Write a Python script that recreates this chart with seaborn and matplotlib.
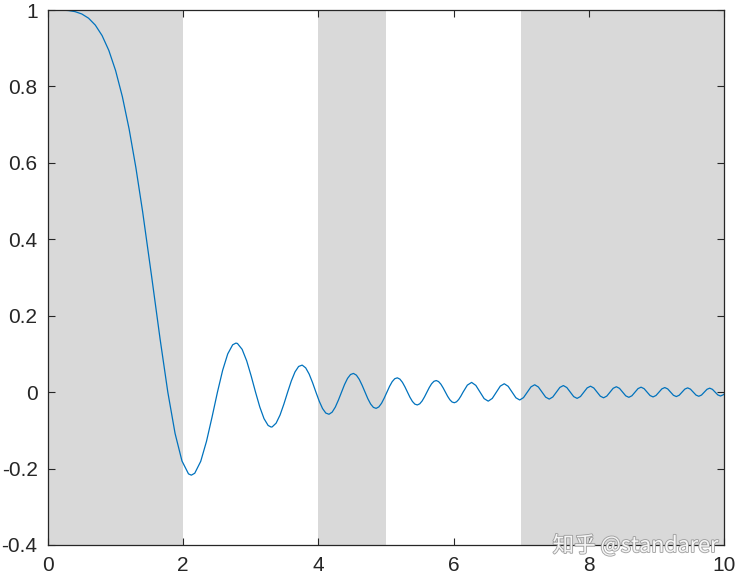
import matplotlib
matplotlib.use("Agg")
import matplotlib.pyplot as plt
import matplotlib.patheffects as pe
import seaborn as sns
import pandas as pd

# ---- data ----
x_vals = [0.0, 0.1, 0.2, 0.3, 0.4, 0.5, 0.6, 0.7, 0.8, 0.9, 1.0, 1.1, 1.2, 1.3, 1.4,
          1.53499, 1.65798, 1.77245, 1.87997, 1.98166, 2.07839, 2.12, 2.17081, 2.25945, 2.34474, 2.42704,
          2.50663, 2.58377, 2.65868, 2.73153, 2.78, 2.80249, 2.87170, 2.93928, 3.00534, 3.06998, 3.13329,
          3.19534, 3.25620, 3.30, 3.31596, 3.37465, 3.43234, 3.48908, 3.54491, 3.59987, 3.65401, 3.70736,
          3.75994, 3.81181, 3.86297, 3.91347, 3.96333, 4.01256, 4.06120, 4.10926, 4.15677, 4.20374,
          4.25019, 4.29614, 4.34160, 4.38660, 4.43114, 4.47523, 4.51889, 4.56214, 4.60498, 4.64742,
          4.68948, 4.73116, 4.77248, 4.81345, 4.85407, 4.89435, 4.93431, 4.97394, 5.01326, 5.05227,
          5.09099, 5.12941, 5.16755, 5.20541, 5.24299, 5.28031, 5.31736, 5.35416, 5.39071, 5.42701,
          5.46307, 5.49890, 5.53449, 5.56985, 5.60499, 5.63991, 5.67462, 5.70912, 5.74341, 5.77749,
          5.81138, 5.84507, 5.87857, 5.91187, 5.94499, 5.97793, 6.01068, 6.04326, 6.07566, 6.10789,
          6.13996, 6.20358, 6.26657, 6.32893, 6.39068, 6.45184, 6.51242, 6.57244, 6.63193, 6.69088,
          6.74932, 6.80725, 6.86470, 6.92167, 6.97817, 7.03421, 7.08982, 7.14499, 7.19975, 7.25409,
          7.30802, 7.36156, 7.41471, 7.46748, 7.51988, 7.57193, 7.62361, 7.67495, 7.72595, 7.77661,
          7.82694, 7.87695, 7.92665, 7.97604, 8.02512, 8.07391, 8.12240, 8.17061, 8.21853, 8.26617,
          8.31354, 8.36064, 8.40748, 8.45406, 8.50038, 8.54646, 8.59228, 8.63787, 8.68321, 8.72832,
          8.77320, 8.81785, 8.86227, 8.90647, 8.95045, 8.99422, 9.03778, 9.08112, 9.12426, 9.16720,
          9.20994, 9.25248, 9.29483, 9.33698, 9.37895, 9.42072, 9.46232, 9.50373, 9.54496, 9.58601,
          9.62689, 9.66760, 9.70813, 9.74850, 9.78870, 9.82873, 9.86860, 9.90832, 9.94787, 9.98727,
          10.0]
y_vals = [1.0, 1.0, 0.99973, 0.99865, 0.99574, 0.98962, 0.97854, 0.96046, 0.93312, 0.89418,
          0.84147, 0.77324, 0.68851, 0.58751, 0.47205,
          0.300106, 0.139213, 0.0, -0.108277, -0.180063, -0.213876, -0.217230, -0.212207, -0.180972, -0.128617, -0.064966,
          0.0, 0.057323, 0.100035, 0.123823, 0.128370, 0.127324, 0.112031, 0.081847, 0.042369, 0.0, -0.038980,
          -0.069255, -0.087135, -0.091316, -0.090946, -0.081126, -0.060021, -0.031435, 0.0, 0.029530, 0.052960, 0.067218,
          0.070736, 0.063585, 0.047385, 0.024987, 0.0, -0.023768, -0.042872, -0.054713, -0.057875, -0.052281,
          -0.039144, -0.020734, 0.0, 0.019888, 0.036013, 0.046130, 0.048971, 0.044390, 0.033345, 0.017718,
          0.0, -0.017096, -0.031045, -0.039875, -0.042441, -0.038568, -0.029042, -0.015468, 0.0, 0.014992,
          0.027282, 0.035114, 0.037448, 0.034096, 0.025723, 0.013725, 0.0, -0.013349, -0.024333, -0.031369,
          -0.033506, -0.030554, -0.023085, -0.012335, 0.0, 0.012031, 0.021959, 0.028345, 0.030315, 0.027678,
          0.020938, 0.011201, 0.0, -0.010949, -0.020007, -0.025853, -0.027679, -0.025297, -0.019156, -0.010258,
          0.0, 0.018374, 0.025465, 0.017653, 0.0, -0.016987, -0.023579, -0.016369, 0.0, 0.015795,
          0.021952, 0.015260, 0.0, -0.014759, -0.020536, -0.014291, 0.0, 0.013851, 0.019291, 0.013438,
          0.0, -0.013048, -0.018189, -0.012681, 0.0, 0.012333, 0.017206, 0.012004, 0.0, -0.011692,
          -0.016324, -0.011396, 0.0, 0.011115, 0.015527, 0.010847, 0.0, -0.010592, -0.014805, -0.010348,
          0.0, 0.010116, 0.014147, 0.009894, 0.0, -0.009681, -0.013545, -0.009477, 0.0, 0.009282,
          0.012992, 0.009094, 0.0, -0.008914, -0.012483, -0.008741, 0.0, 0.008574, 0.012012, 0.008414,
          0.0, -0.008260, -0.011575, -0.008111, 0.0, 0.007967, 0.011169, 0.007829, 0.0, -0.007695,
          -0.010790, -0.007566, 0.0, 0.007441, 0.010437, 0.007320, 0.0, -0.007203, -0.010105, -0.007089,
          -0.005064]

band_starts = [0, 4, 7]
band_ends = [2, 5, 10]

x_ticks = [0, 2, 4, 6, 8, 10]
y_ticks = [-0.4, -0.2, 0, 0.2, 0.4, 0.6, 0.8, 1]
x_ticklabels = ["0", "2", "4", "6", "8", "10"]
y_ticklabels = ["-0.4", "-0.2", "0", "0.2", "0.4", "0.6", "0.8", "1"]

watermark = "知乎 @standarer"

# ---- plot ----
sns.set_style("ticks")
plt.rcParams["font.family"] = ["Liberation Sans", "DejaVu Sans"]

fig = plt.figure(figsize=(7.39, 5.79), dpi=100)
ax = fig.add_axes([48 / 739, 1 - 545 / 579, (724 - 48) / 739, (545 - 10) / 579])

for s, e in zip(band_starts, band_ends):
    ax.axvspan(s, e, color="#d9d9d9", lw=0, zorder=0)

df = pd.DataFrame({"x": x_vals, "y": y_vals})
sns.lineplot(data=df, x="x", y="y", ax=ax, color="#0072BD", linewidth=0.9,
             sort=False, estimator=None, zorder=3)

ax.set_xlim(0, 10)
ax.set_ylim(-0.4, 1)
ax.set_xticks(x_ticks)
ax.set_xticklabels(x_ticklabels)
ax.set_yticks(y_ticks)
ax.set_yticklabels(y_ticklabels)
ax.set_xlabel("")
ax.set_ylabel("")

ax.tick_params(direction="in", length=5, width=0.8, color="#262626",
               labelsize=15, labelcolor="#262626", top=True, right=True)
ax.tick_params(axis="x", pad=8)
ax.tick_params(axis="y", pad=7.5)
for sp in ax.spines.values():
    sp.set_visible(True)
    sp.set_color("#262626")
    sp.set_linewidth(0.9)
    sp.set_zorder(5)

fig.text(0.860, 1 - 546 / 579, watermark, ha="center", va="center", fontsize=15.5,
         family=["Noto Sans CJK SC", "DejaVu Sans"], color="#ffffff", alpha=0.9,
         path_effects=[pe.withStroke(linewidth=1.3, foreground="#999999")], zorder=10)

fig.savefig("out.png", dpi=100)
